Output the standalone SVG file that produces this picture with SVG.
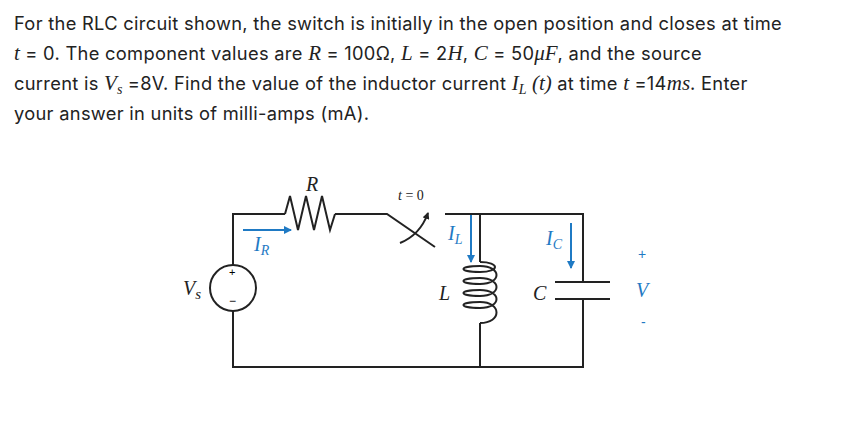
<svg xmlns="http://www.w3.org/2000/svg" width="852" height="427" viewBox="0 0 852 427">
<style>
.t{font-family:Inter,"Open Sans",sans-serif;font-size:18.3px;letter-spacing:0.3px;fill:#222}
.m{font-family:"Liberation Serif",serif;font-style:italic;font-size:21px;letter-spacing:0}
.w{fill:none;stroke:#222;stroke-width:2}
.b{fill:none;stroke:#1f7ac4;stroke-width:2}
.lb{font-family:"Liberation Serif",serif;font-style:italic;font-size:20px;fill:#222}
.bl{font-family:"Liberation Serif",serif;font-style:italic;font-size:20px;fill:#1f7ac4}
</style>
<defs><marker id="a" markerWidth="8" markerHeight="8" refX="7" refY="4" orient="auto" markerUnits="userSpaceOnUse"><path d="M0,0 L8,4 L0,8Z" fill="#1f7ac4"/></marker>
<marker id="k" markerWidth="7" markerHeight="7" refX="6" refY="3.5" orient="auto" markerUnits="userSpaceOnUse"><path d="M0,0 L7,3.5 L0,7Z" fill="#222"/></marker></defs>
<rect width="852" height="427" fill="#fff"/>
<g id="question">
<text class="t" x="14" y="30">For the RLC circuit shown, the switch is initially in the open position and closes at time</text>
<text class="t" x="14" y="60"><tspan class="m">t</tspan> = 0.  The component values are <tspan class="m">R</tspan> = 100Ω, <tspan class="m">L</tspan> = 2<tspan class="m">H</tspan>, <tspan class="m">C</tspan> = 50<tspan class="m">μF</tspan>, and the source</text>
<text class="t" x="14" y="90">current is <tspan class="m">V<tspan font-size="14" dy="4">s</tspan></tspan><tspan dy="-4"> =8V.  Find the value of the inductor current </tspan><tspan class="m">I<tspan font-size="14" dy="4">L</tspan></tspan><tspan dy="-4"> </tspan><tspan class="m" font-style="normal">(</tspan><tspan class="m">t</tspan><tspan class="m" font-style="normal">)</tspan> at time <tspan class="m">t</tspan> =14<tspan class="m">ms</tspan>.  Enter</text>
<text class="t" x="14" y="120">your answer in units of milli-amps (mA).</text>
</g>
<g id="connectors">
<path class="w" d="M233,265 V214 H285 M335,214 H387 L435,247 M445,214 H583 V282 M233,311 V367 H583 V299 M480,214 V262 M480,323 V367"/>
</g>
<g id="resistor"><path class="w" d="M285,214 L290,196 L298,230 L306,196 L314,230 L322,196 L330,230 L335,214"/><text class="lb" x="306" y="191">R</text></g>
<g id="switch"><path class="w" d="M400,243 Q420,235 428,213" marker-end="url(#k)"/><text x="398" y="200" font-family="Liberation Serif,serif" font-size="14" fill="#222"><tspan font-style="italic">t</tspan> = 0</text></g>
<g id="source"><circle class="w" cx="233" cy="288" r="23"/><text x="229" y="276" font-family="Liberation Sans,sans-serif" font-size="11">+</text><text x="229" y="305" font-family="Liberation Sans,sans-serif" font-size="12">−</text><text class="lb" x="183" y="295" font-size="22">V<tspan font-size="15" dy="4">s</tspan></text></g>
<g id="inductor"><path class="w" d="M480,262 C500,262 500,272 480,272 C458,272 458,266 480,266 C502,266 502,284 480,284 C458,284 458,278 480,278 C502,278 502,296 480,296 C458,296 458,290 480,290 C502,290 502,308 480,308 C458,308 458,302 480,302 C502,302 502,323 480,323"/><text class="lb" x="439" y="300">L</text></g>
<g id="capacitor"><path class="w" d="M555,282 H610 M555,299 H610"/><text class="lb" x="533" y="300">C</text></g>
<g id="labels">
<path class="b" d="M243,230 H291" marker-end="url(#a)"/><text class="bl" x="254" y="251">I<tspan font-size="14" dy="4">R</tspan></text>
<path class="b" d="M471,215 V262" marker-end="url(#a)"/><text class="bl" x="448" y="240">I<tspan font-size="14" dy="4">L</tspan></text>
<path class="b" d="M571,223 V268" marker-end="url(#a)"/><text class="bl" x="546" y="245">I<tspan font-size="14" dy="4">C</tspan></text>
<text x="638" y="259" font-family="Liberation Sans,sans-serif" font-size="14" fill="#1f7ac4">+</text>
<text class="bl" x="636" y="297" font-size="17">V</text>
<text x="641" y="327" font-family="Liberation Sans,sans-serif" font-size="14" fill="#1f7ac4">-</text>
</g>
</svg>
